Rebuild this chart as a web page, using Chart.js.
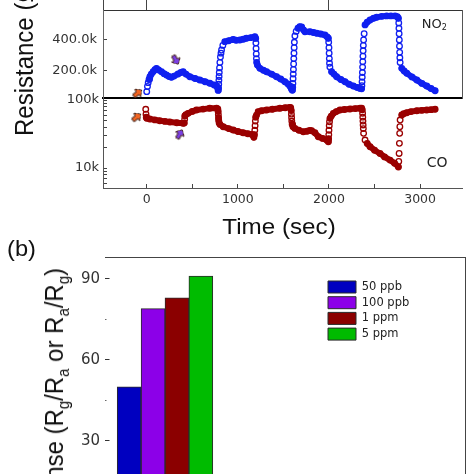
<!DOCTYPE html>
<html><head><meta charset="utf-8">
<script src="https://cdn.jsdelivr.net/npm/chart.js@4.4.1/dist/chart.umd.min.js"></script>
<style>
html,body{margin:0;padding:0;width:474px;height:474px;overflow:hidden;background:#fff;}
#wrap{position:relative;width:474px;height:474px;overflow:hidden;}
canvas{position:absolute;left:0;}
.t{position:absolute;white-space:nowrap;color:#111;line-height:1;}
.big{font-family:'Liberation Sans',Arial,sans-serif;}
.sm{font-family:'DejaVu Sans',sans-serif;color:#222;}
sub{font-size:0.62em;vertical-align:baseline;position:relative;top:0.32em;}
</style></head><body>
<div id="wrap">
<canvas id="cA" width="474" height="110" style="top:0"></canvas>
<canvas id="cB" width="474" height="250" style="top:0"></canvas>
<canvas id="cC" width="474" height="300" style="top:240px"></canvas>
<div class="t big" style="left:10.6px;top:136px;font-size:24px;transform-origin:0 0;transform:rotate(-90deg) scaleY(1.1);">Resistance (Ω)</div>
<div class="t big" style="left:279px;top:216px;font-size:22px;transform:translateX(-50%) scaleX(1.1);">Time (sec)</div>
<div class="t sm" style="left:421.7px;top:16.5px;font-size:13px;">NO<sub>2</sub></div>
<div class="t sm" style="left:426.7px;top:155.4px;font-size:14px;">CO</div>
<div class="t big" style="left:7px;top:239px;font-size:21.5px;transform-origin:0 0;transform:scaleX(1.1);">(b)</div>
<div style="position:absolute;left:41.6px;top:268px;width:0;height:0;">
  <div class="t big" style="right:0;top:0;font-size:24px;transform-origin:100% 0;transform:rotate(-90deg) scaleY(1.1);">Response (R<sub>g</sub>/R<sub>a</sub> or R<sub>a</sub>/R<sub>g</sub>)</div>
</div>
</div>
<script>
// ---------- data (time in s, resistance in kΩ) ----------
const timeNO2 = [0,8,16,25,35,50,70,90,107,130,162,190,216,245,271,300,344,375,399,430,473,530,582,640,692,740,766,778,784,
788,790,792,794,796,799,803,809,815,821,835,857,900,949,980,1022,1060,1095,1140,1187,
1196,1198,1200,1202,1204,1207,1215,1242,1280,1315,1370,1425,1470,1516,1550,1571,1585,1592,1598,
1602,1604,1606,1608,1610,1612,1614,1616,1618,1620,1626,1640,1660,1680,1700,1720,1736,1791,1830,1865,1910,1956,1980,1993,
1997,2000,2002,2004,2006,2010,2029,2055,2084,2130,2176,2220,2267,2310,2341,2358,
2361,2363,2365,2367,2369,2371,2373,2375,2377,2380,2386,2396,2420,2451,2490,2524,2580,2634,2680,2725,2750,2762,
2766,2768,2770,2772,2774,2776,2778,2781,2799,2825,2854,2910,2964,3020,3073,3120,3165];
const resNO2 = [67,100,125,145,163,180,195,208,217,207,195,183,174,165,159,167,181,190,195,180,163,152,142,131,121,110,103,92,75,
90,115,140,165,190,220,255,290,315,335,365,389,395,404,398,400,405,411,415,421,
410,380,345,310,280,255,238,217,205,195,180,163,148,131,117,103,90,80,76,
95,120,150,180,210,245,280,315,350,385,425,455,475,486,484,465,453,453,448,443,438,432,420,411,
385,350,315,280,250,225,195,180,163,145,131,115,103,94,88,85,
105,130,160,190,225,260,295,330,365,400,440,497,515,529,540,546,552,555,555,555,550,540,
510,475,440,400,360,320,285,255,217,200,185,162,142,120,103,87,73];

const timeCO = [-11,-8,-5,0,33,90,143,200,253,330,399,
412,416,418,430,454,500,546,620,692,766,
780,784,786,788,790,795,805,839,900,949,1000,1058,1110,1150,1170,1176,
1182,1186,1189,1192,1196,1205,1223,1260,1315,1380,1462,1520,1571,
1580,1586,1588,1590,1592,1596,1605,1626,1670,1718,1760,1790,1810,1846,1883,1930,1975,1993,
1996,1998,2000,2003,2006,2011,2025,2048,2080,2121,2170,2231,2290,2341,2359,
2365,2369,2371,2373,2375,2377,2380,2396,2420,2451,2500,2560,2610,2670,2720,2762,
2766,2770,2773,2776,2778,2781,2799,2820,2854,2900,2964,3020,3073,3120,3165];
const resCO = [73,62,56,54,52.5,51,49.6,48.5,47.5,46.4,45.4,
46,52,58.2,61,63.7,68,71.3,73.5,75.5,75.5,
74,68,61,55,50,46,43.5,40.5,38,36.2,34.5,33,32,31.3,30,28.3,
31,36,42,49,56,60,67.3,69.5,71.3,73,75.5,77,78,
77,70,62,55,49,44,40.5,38.3,36,34.2,34.8,35.8,35.4,33,28.9,27.3,25.8,24.4,
27,31,36,42,48,53.8,58,63.7,67.5,71.3,72.5,73.7,74.8,75.5,75.5,
72,64,56,49,43,38,32.4,25.8,23,20.6,18.3,16.4,14.6,13.1,11.8,10.4,
12.5,16.4,23.1,32.4,40.5,50.8,60.1,62.8,65.1,67.5,69.6,70.5,71.3,72.2,73];

// arrow annotations (gas-injection markers)
const arrowTimeNO2 = [-99, 319];
const arrowValNO2  = [58, 271];
const arrowAngleNO2 = [-40, 60];
const arrowTimeCO = [-110, 363];
const arrowValCO  = [56.2, 31.6];
const arrowAngleCO = [-40, -60];

// axis ticks
const xMin = -480, xMax = 3460;
const topTicks = [-480, 0, 2000];
const xTicks = [0, 500, 1000, 1500, 2000, 2500, 3000];
const yTicksNO2 = [200, 400];
const yTicksCO = [6, 7, 8, 9, 10, 20, 30, 40, 50, 60, 70, 80, 90, 100];

// panel (b)
const barSeries = ['50 ppb', '100 ppb', '1 ppm', '5 ppm'];
const barValues = [50, 79, 83, 91];
const barTicks = [0, 15, 30, 45, 60, 75, 90];

// ---------- styles ----------
const BLUE = '#1020f0', RED = '#9a0000';
const ORANGE = '#f26522', PURPLE = '#7b3fe4';
const barColors = ['#0000c0', '#8c00e8', '#8b0000', '#00bb00'];

Chart.defaults.font.family = "'DejaVu Sans', sans-serif";
Chart.defaults.color = '#333';
Chart.defaults.animation = false;

const pts = (ts, vs) => ts.map((t, i) => ({x: t, y: vs[i]}));
const fix = (w, h) => s => {
  if (w !== null) s.width = w;
  if (h !== null) s.height = h;
  s.paddingTop = s.paddingBottom = s.paddingLeft = s.paddingRight = 0;
};
const setTicks = arr => s => { s.ticks = arr.map(v => ({value: v})); };
const segColor = color => ctx => {
  const dy = Math.abs(ctx.p1.y - ctx.p0.y), dx = Math.abs(ctx.p1.x - ctx.p0.x);
  return (dy > 3 && dy > 1.5 * dx) ? 'rgba(0,0,0,0)' : color;
};
function makeArrow(fill) {
  const c = document.createElement('canvas');
  c.width = 12; c.height = 12;
  const g = c.getContext('2d');
  g.beginPath();
  g.moveTo(1, 4); g.lineTo(6, 4); g.lineTo(6, 1); g.lineTo(11, 6);
  g.lineTo(6, 11); g.lineTo(6, 8); g.lineTo(1, 8); g.closePath();
  g.fillStyle = fill; g.fill();
  g.strokeStyle = '#4a2a20'; g.lineWidth = 1; g.stroke();
  return c;
}
const arrowImgs = [makeArrow(ORANGE), makeArrow(PURPLE)];

function seriesDS(label, data, color) {
  return {
    label, data, showLine: true, tension: 0,
    borderColor: color, borderWidth: 6,
    borderJoinStyle: 'round', borderCapStyle: 'round',
    pointRadius: 2.8, pointBorderWidth: 1.3, pointBorderColor: color,
    pointBackgroundColor: 'rgba(255,255,255,0)',
    segment: {borderColor: segColor(color)}, order: 2
  };
}
function arrowDS(data, angles) {
  return {label: 'marker', data, showLine: false, pointStyle: arrowImgs, rotation: angles, order: 1};
}
const noUI = {legend: {display: false}, tooltip: {enabled: false}};

// ---------- (a) upper: NO2 ----------
new Chart(document.getElementById('cA'), {
  type: 'scatter',
  data: {datasets: [
    seriesDS('NO2', pts(timeNO2, resNO2), BLUE),
    arrowDS(pts(arrowTimeNO2, arrowValNO2), arrowAngleNO2)
  ]},
  options: {
    responsive: false, animation: false, events: [],
    layout: {padding: {left: 0, right: 12, top: 0, bottom: 12}, autoPadding: false},
    plugins: noUI,
    scales: {
      x: {type: 'linear', position: 'top', min: xMin, max: xMax, bounds: 'data',
          afterBuildTicks: setTicks(topTicks), ticks: {display: false, autoSkip: false},
          grid: {drawOnChartArea: false, tickLength: 10, color: '#444'},
          border: {color: '#333'}, afterFit: fix(null, 10)},
      xb: {type: 'linear', position: 'bottom', min: xMin, max: xMax, bounds: 'data',
          ticks: {display: false}, grid: {display: false},
          border: {color: '#000', width: 2}, afterFit: fix(null, 0)},
      y: {type: 'linear', position: 'left', min: 26, max: 593, bounds: 'data',
          afterBuildTicks: setTicks(yTicksNO2),
          ticks: {callback: v => v.toFixed(1) + 'k', font: {size: 13}, padding: 10, autoSkip: false},
          grid: {drawOnChartArea: false, tickLength: -4, color: '#444'},
          border: {color: '#666'}, afterFit: fix(103, null)},
      yr: {type: 'linear', position: 'right', ticks: {display: false}, grid: {display: false},
          border: {color: '#555'}, afterFit: fix(0, null)}
    }
  }
});

// ---------- (a) lower: CO ----------
new Chart(document.getElementById('cB'), {
  type: 'scatter',
  data: {datasets: [
    seriesDS('CO', pts(timeCO, resCO), RED),
    arrowDS(pts(arrowTimeCO, arrowValCO), arrowAngleCO)
  ]},
  options: {
    responsive: false, animation: false, events: [],
    layout: {padding: {left: 0, right: 12, top: 98, bottom: 32}, autoPadding: false},
    plugins: noUI,
    scales: {
      x: {type: 'linear', position: 'bottom', min: xMin, max: xMax, bounds: 'data',
          afterBuildTicks: setTicks(xTicks),
          ticks: {callback: v => v % 1000 === 0 ? String(v) : '', font: {size: 12.5}, padding: 8, maxRotation: 0, autoSkip: false},
          grid: {drawOnChartArea: false, tickLength: -4, color: '#444'},
          border: {color: '#555'}, afterFit: fix(null, 30)},
      y: {type: 'logarithmic', position: 'left', min: 5.1, max: 107, bounds: 'data',
          afterBuildTicks: setTicks(yTicksCO),
          ticks: {callback: v => (v === 10 || v === 100) ? v + 'k' : '', font: {size: 13}, padding: 8, autoSkip: false},
          grid: {drawOnChartArea: false, tickLength: -4, color: '#444'},
          border: {color: '#555'}, afterFit: fix(103, null)}
    }
  }
});

// ---------- (b) bar chart ----------
const legendShift = {
  id: 'legendShift',
  afterLayout(chart) {
    const lg = chart.legend; if (!lg) return;
    const ca = chart.chartArea;
    const dx = (ca.right - 140.7) - lg.left, dy = (ca.top + 20.3) - lg.top;
    lg.left += dx; lg.right += dx; lg.top += dy; lg.bottom += dy;
  }
};
new Chart(document.getElementById('cC'), {
  type: 'bar',
  data: {datasets: barSeries.map((name, i) => ({
    label: name, data: [{x: 0, y: barValues[i]}],
    backgroundColor: barColors[i], borderColor: '#2a2a2a', borderWidth: 1,
    barThickness: 23.9
  }))},
  options: {
    responsive: false, animation: false, events: [],
    layout: {padding: {left: 0, right: 9, top: 17, bottom: 18}, autoPadding: false},
    plugins: {
      tooltip: {enabled: false},
      legend: {display: true, position: 'chartArea', align: 'start',
        labels: {boxWidth: 28, boxHeight: 12, padding: 3.7, font: {size: 11.5}, color: '#222'}}
    },
    scales: {
      x: {type: 'linear', display: false, min: -0.5, max: 2.5, offset: false, bounds: 'data'},
      xt: {type: 'linear', position: 'top', ticks: {display: false}, grid: {display: false},
           border: {color: '#444'}, afterFit: fix(null, 0)},
      y: {type: 'linear', position: 'left', min: 0, max: 98.1, bounds: 'data',
          afterBuildTicks: setTicks(barTicks),
          ticks: {callback: v => v % 30 === 0 ? String(v) : '', font: {size: 15}, padding: 9.5, autoSkip: false},
          grid: {drawOnChartArea: false, tickLength: -4.5,
                 tickColor: c => (c.tick && c.tick.value % 30 !== 0) ? '#666' : '#333',
                 tickBorderDash: c => (c.tick && c.tick.value % 30 !== 0) ? [0, 3, 1.5, 40] : []},
          border: {display: false}, afterFit: fix(105, null)},
      yr: {type: 'linear', position: 'right', ticks: {display: false}, grid: {display: false},
           border: {color: '#444'}, afterFit: fix(0, null)}
    }
  },
  plugins: [legendShift]
});
</script>
</body></html>
